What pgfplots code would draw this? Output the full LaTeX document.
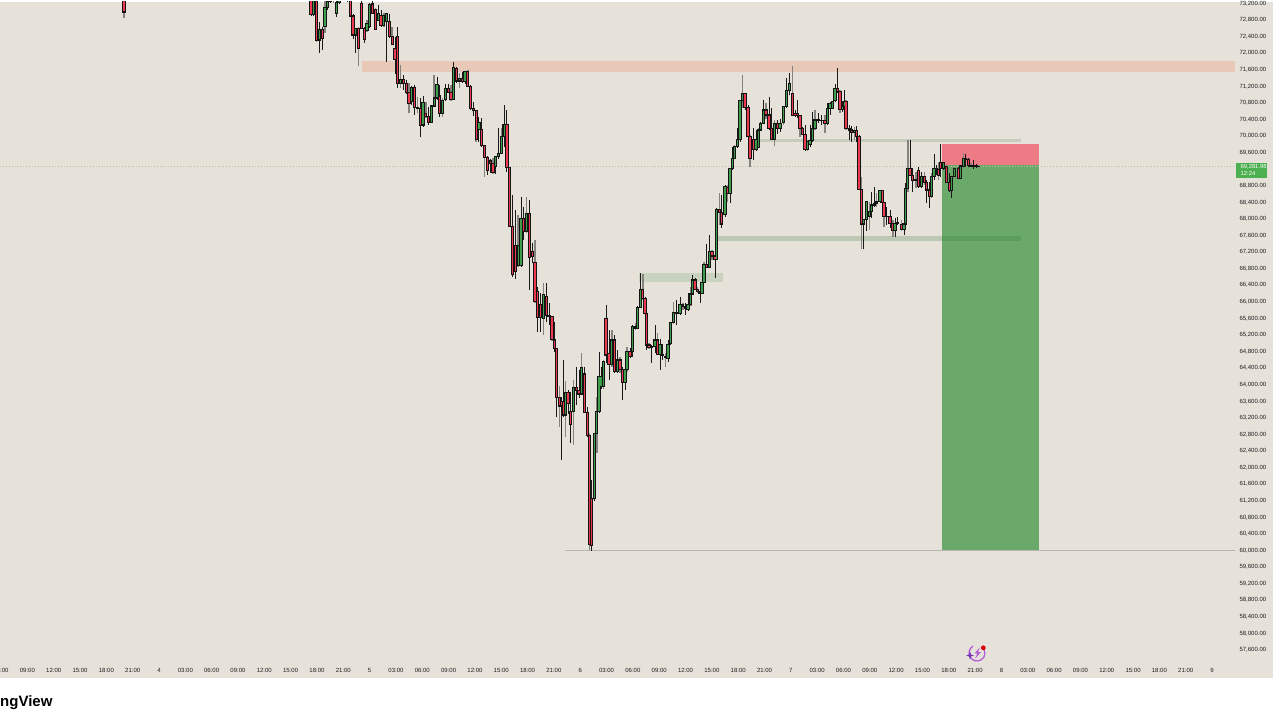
\documentclass[border=0pt]{standalone}
\usepackage{pgfplots}
\usepackage{pgfplotstable}
\usepackage{fontspec}
\setmainfont{Liberation Sans}
\pgfplotsset{compat=1.18}
\definecolor{panel}{HTML}{E6E2DA}
\definecolor{zoneO}{HTML}{E8C9B8}
\definecolor{zoneG}{HTML}{C9D1BF}
\definecolor{boxR}{HTML}{EE7A85}
\definecolor{boxG}{HTML}{6BA96B}
\definecolor{candR}{HTML}{EE3A50}
\definecolor{candG}{HTML}{3E9E4C}
\definecolor{tagG}{HTML}{4CAF50}
\definecolor{logoP}{HTML}{B055D8}
\pgfplotstableread{
t o h l c
-3.99 73400 73500 72860 73006
17.32 73380 73540 72920 72940
17.64 72940 73460 72910 73340
17.96 73340 73460 72290 72310
18.28 72330 72770 72010 72590
18.60 72590 72650 72090 72370
18.92 72650 73260 72490 73120
19.23 73120 73380 73050 73260
19.55 73260 73420 73220 73380
19.87 73380 73460 73230 73420
20.19 72970 73460 72880 73230
20.51 73230 73640 73210 73620
20.83 73620 73700 73460 73540
21.15 73540 73700 73460 73600
21.47 73600 73620 73250 73380
21.79 73340 73420 72890 72910
22.11 72910 72970 72350 72450
22.42 72450 72610 72020 72610
22.74 72610 72650 71700 72130
23.06 73220 73460 72590 72610
23.38 72610 72650 72250 72350
23.70 72570 72820 72530 72730
24.02 72650 73220 72610 73180
24.34 73200 73260 72960 72970
24.66 73060 73100 72570 72590
24.98 72810 73180 72800 72970
25.30 72930 73060 72650 72690
25.62 72690 72990 72650 72930
25.93 72770 72990 71810 72970
26.25 72770 72970 72390 72410
26.57 72410 72650 72210 72230
26.89 72130 72410 71510 71860
27.21 72410 72650 71170 71290
27.53 71290 71730 71170 71370
27.85 71370 71490 71120 71290
28.17 71290 71370 71030 71060
28.49 71060 71285 70560 70790
28.81 70840 71210 70760 71190
29.13 71190 71250 70520 70710
29.44 70710 70960 70560 70680
29.76 70680 70920 70000 70260
30.08 70280 70980 70240 70820
30.40 70560 70840 70460 70480
30.72 70480 70720 70280 70350
31.04 70350 70760 70320 70740
31.36 70740 71490 70710 70930
31.68 70930 71450 70880 71250
32.00 70980 71250 70480 70550
32.32 70560 70920 70480 70880
32.63 70900 71280 70870 71170
32.95 71170 71280 71040 71070
33.27 71070 71250 70870 70900
33.59 70900 71810 70880 71670
33.91 71650 71690 71300 71340
34.23 71340 71530 71170 71410
34.55 71410 71570 71300 71330
34.87 71330 71590 71280 71570
35.19 71570 71610 71190 71210
35.51 71210 71250 70640 70680
35.83 70680 70840 70500 70630
36.14 70620 70640 69880 69930
36.46 70180 70480 69880 70340
36.78 70180 70440 69760 69780
37.10 69780 69800 69030 69500
37.42 69500 69520 69070 69190
37.74 69410 69450 69110 69350
38.06 69350 69480 69100 69130
38.38 69270 69530 69100 69520
38.70 69520 70200 69450 69600
39.02 69600 70200 69580 70010
39.33 70010 70760 69760 70300
39.65 70300 70640 69150 69260
39.97 69260 69270 67830 67840
40.29 67840 68590 66620 66680
40.61 67370 68230 66560 66740
40.93 66890 68110 66860 67370
41.25 66890 68550 66860 68030
41.57 68030 68310 67510 67700
41.89 67700 68550 67670 68150
42.21 68150 68470 66300 67090
42.53 67230 67430 66940 67100
42.85 66960 67500 65980 66020
43.15 66270 66380 65290 65640
43.46 65940 66220 65290 65640
43.80 65610 66460 65210 66180
44.14 66140 66460 65530 65690
44.44 65690 65980 65450 65650
44.79 65650 65670 65070 65110
45.05 65090 65530 64810 64890
45.32 64890 64910 63240 63710
45.62 63710 63970 63000 63500
45.85 63600 63720 62200 63500
46.12 63600 64610 63240 63280
46.34 63280 64090 62760 63830
46.61 63830 63890 63300 63560
46.91 63360 63840 62600 63060
47.22 63360 64130 62560 63950
47.56 63950 64450 63520 63880
47.86 63880 64370 63680 63790
48.13 63790 64770 63770 64430
48.47 64270 64450 63320 63350
48.81 63350 63480 62760 62780
49.04 62780 62840 60030 60150
49.31 61270 61710 60010 60130
49.61 61270 62840 61210 62840
49.88 62840 63720 62360 63360
50.14 63360 64810 63340 64210
50.37 63960 64450 63900 64210
50.64 63960 64610 63900 64570
50.94 65620 65940 64530 64730
51.28 64770 65330 64130 64510
51.59 64510 65330 64450 65090
51.89 65090 65210 64300 64330
52.23 64330 64850 64300 64610
52.54 64610 64690 64290 64370
52.80 64370 64450 63640 64060
53.10 64060 64490 63890 64380
53.33 64370 64930 64330 64810
53.67 64810 64890 64650 64690
53.98 64810 65450 64690 65410
54.28 65410 65490 65330 65370
54.55 65370 65900 65350 65880
54.89 65880 66700 65860 66300
55.12 66300 66680 66060 66090
55.38 66090 66140 65450 65730
55.57 65730 65770 64850 64970
55.84 64970 65010 64870 64910
56.07 64910 64970 64530 64930
56.52 64930 65450 64770 65090
56.79 65090 65250 64730 64750
57.09 64750 65110 64370 64990
57.40 64750 64990 64610 64730
57.70 64700 64770 64450 64670
58.01 64650 65090 64570 64990
58.31 65010 65530 64970 65510
58.61 65510 66020 65480 65750
58.99 65730 66060 65450 65750
59.37 65730 66140 65690 65940
59.68 65940 65980 65810 65900
59.98 65900 65980 65690 65860
60.28 65830 66220 65800 65940
60.59 65940 66380 65910 66200
60.82 66200 66660 66180 66540
61.08 66540 66580 66300 66310
61.35 66310 66380 66220 66260
61.65 66260 66300 65990 66220
61.88 66220 66540 66200 66480
62.11 66480 66980 66460 66920
62.41 66920 67420 66820 66850
62.72 66850 67620 66820 67220
63.02 67220 67260 67020 67120
63.36 67120 67180 66580 67040
63.55 67040 68270 67020 68240
63.86 68240 68630 67870 68160
64.12 68160 68590 67790 67890
64.50 68130 68830 68070 68790
64.77 68780 68830 68430 68630
65.07 68630 69150 68400 69230
65.34 69230 69760 69190 69480
65.60 69480 69790 69450 69760
65.91 69760 70200 69720 69920
66.21 69920 70880 69880 70880
66.51 70880 71490 70680 71030
66.78 71030 71060 70640 70700
67.12 70700 70760 69800 70000
67.35 70000 70040 69270 69480
67.73 69920 70200 69430 69690
68.03 69690 70160 69660 69930
68.34 69740 70200 69720 70160
68.56 70160 70360 70140 70320
68.87 70320 70880 70300 70640
69.17 70640 70800 70420 70520
69.51 70520 70960 70160 70200
69.82 70200 70680 69920 69930
70.12 69930 70400 69770 70320
70.46 70320 70400 70060 70200
70.77 70200 70420 70120 70320
71.15 70340 70740 70280 70720
71.53 70720 71410 70700 71120
71.83 71120 71530 71000 71280
72.17 71040 71700 70490 70500
72.48 70560 70640 70480 70500
72.74 70560 70880 70460 70500
73.05 70500 70520 70000 70200
73.31 70200 70240 70040 70060
73.62 70060 70280 69660 69680
73.88 69680 69920 69660 69880
74.19 69800 70280 69740 69900
74.49 69900 70600 69880 70200
74.76 70200 70640 70160 70400
75.14 70400 70560 70320 70380
75.52 70380 70520 70280 70390
75.90 70380 70520 70090 70320
76.16 70320 70800 70280 70680
76.47 70680 70840 70520 70800
76.77 70680 70840 70660 70840
77.04 70870 71270 70840 71160
77.30 71160 71650 71040 71080
77.61 71080 71120 70580 70660
77.87 70660 70870 70600 70720
78.10 70720 71120 70680 70840
78.29 70840 70880 70160 70200
78.67 70200 70280 69920 70160
78.93 70160 70260 69880 70090
79.24 70090 70240 69920 70140
79.50 70140 70260 69880 70010
79.77 70010 70040 68710 68730
80.07 68730 69030 67280 67890
80.30 67890 68000 67280 67990
80.64 67990 68430 67710 68430
80.95 68070 68430 67750 68190
81.21 68190 68670 68030 68350
81.52 68350 68790 68310 68390
81.78 68390 68630 68290 68430
82.16 68430 68710 68400 68690
82.43 68690 68710 68370 68400
82.62 68400 68430 67830 68070
82.92 68070 68310 67870 68070
83.30 68070 68230 67790 67910
83.61 67910 67990 67570 67730
83.87 67730 68030 67570 67910
84.18 67910 68070 67870 67920
84.63 67870 67990 67710 67750
84.90 67750 67990 67620 67890
85.09 67890 68890 67870 68750
85.32 68750 69920 68670 69230
85.58 69230 69920 69070 69070
85.89 69070 69230 68670 68950
86.27 68950 69150 68750 68970
86.57 69190 69270 68750 68790
86.91 68790 69150 68750 69030
87.22 69030 69150 68830 68890
87.48 68890 68950 68390 68710
87.79 68710 68910 68270 68550
88.05 68550 69110 68510 69030
88.32 69030 69590 68950 69230
88.62 69230 69310 69070 69210
88.81 69210 69390 68950 69070
89.08 69380 69820 69030 69230
89.38 69230 69390 69190 69370
89.76 69270 69310 68870 68890
90.06 68890 69110 68670 68690
90.33 68690 69030 68510 69030
90.63 69030 69270 68990 69230
91.09 69230 69270 68970 68990
91.36 68990 69310 68970 69290
91.66 69270 69610 69230 69470
91.93 69470 69590 69270 69450
92.23 69450 69480 69260 69310
92.50 69310 69370 69260 69290
92.80 69290 69430 69210 69310
93.10 69310 69350 69230 69290
93.37 69280 69290 69250 69270
}\candles
\begin{document}
\begin{tikzpicture}[x=1pt,y=1pt]
\useasboundingbox (0,0) rectangle (1280,720);
\begin{axis}[
  at={(0pt,41.5pt)}, anchor=south west,
  scale only axis, width=1273.5pt, height=676.5pt,
  xmin=-18.12, xmax=127.0, ymin=56923, ymax=73248,
  axis background/.style={fill=panel},
  axis line style={draw=none}, major tick length=0pt,
  xtick={-18,-15,...,120},
  xticklabels={06:00,09:00,12:00,15:00,18:00,21:00,4,
    03:00,06:00,09:00,12:00,15:00,18:00,21:00,5,
    03:00,06:00,09:00,12:00,15:00,18:00,21:00,6,
    03:00,06:00,09:00,12:00,15:00,18:00,21:00,7,
    03:00,06:00,09:00,12:00,15:00,18:00,21:00,8,
    03:00,06:00,09:00,12:00,15:00,18:00,21:00,9},
  ytick={57600,58000,58400,58800,59200,59600,60000,60400,60800,61200,61600,62000,62400,62800,63200,63600,64000,64400,64800,65200,65600,66000,66400,66800,67200,67600,68000,68400,68800,69600,70000,70400,70800,71200,71600,72000,72400,72800,73200},
  yticklabel pos=right,
  scaled y ticks=false,
  tick label style={font=\fontsize{6}{7}\selectfont, text=black!88},
  xticklabel style={anchor=center, yshift=8pt},
  yticklabel style={anchor=east, xshift=-3.7pt, yshift=0.5pt},
  /pgf/number format/.cd, fixed, fixed zerofill, precision=2, 1000 sep={,}, assume math mode=true,
  /pgfplots/.cd,
  clip=true, unbounded coords=discard,
  error bars/error mark=none,
]
% zones under the candles
\addplot[fill=boxG, draw=none, forget plot] coordinates {(89.23,60000)(100.28,60000)(100.28,69307)(89.23,69307)} --cycle;
\addplot[fill=boxR, draw=none, forget plot] coordinates {(89.23,69307)(100.28,69307)(100.28,69814)(89.23,69814)} --cycle;
\addplot[fill=zoneO, draw=none, forget plot] coordinates {(23.13,71558)(122.62,71558)(122.62,71824)(23.13,71824)} --cycle;
\addplot[fill=zoneG, draw=none, forget plot] coordinates {(54.70,66491)(64.27,66491)(64.27,66708)(54.70,66708)} --cycle;
\addplot[fill=gray!55!green!60!black, fill opacity=0.22, draw=none, forget plot] coordinates {(63.59,67488)(98.23,67488)(98.23,67601)(63.59,67601)} --cycle;
\addplot[fill=gray!60!green!50!black, fill opacity=0.16, draw=none, forget plot] coordinates {(68.50,69862)(98.23,69862)(98.23,69949)(68.50,69949)} --cycle;
\addplot[color=black!20!panel, line width=1pt, forget plot] coordinates {(46.27,60000)(122.62,60000)};
\addplot[color=green!45!black!25!panel, line width=0.9pt, dotted, forget plot] coordinates {(-18.12,69281.98)(122.62,69281.98)};
% wicks, grey and black
\addplot[draw=none, forget plot, error bars/.cd, y dir=both, y explicit,
  error bar style={line width=1.6pt, draw=black!42!panel}]
  table[x=t, y expr={mod(\coordindex,3)==0 ? \thisrow{h} : nan},
        y error plus expr=0, y error minus expr={\thisrow{h}-\thisrow{l}}] {\candles};
\addplot[draw=none, forget plot, error bars/.cd, y dir=both, y explicit,
  error bar style={line width=0.95pt, draw=black!90}]
  table[x=t, y expr={mod(\coordindex,3)==0 ? nan : \thisrow{h}},
        y error plus expr=0, y error minus expr={\thisrow{h}-\thisrow{l}}] {\candles};
% bodies
\addplot[draw=none, forget plot, error bars/.cd, y dir=both, y explicit,
  error bar style={line width=3.3pt, draw=black!92}]
  table[x=t, y expr={max(\thisrow{o},\thisrow{c})+14},
        y error plus expr=0, y error minus expr={abs(\thisrow{o}-\thisrow{c})+28}] {\candles};
\addplot[draw=none, forget plot, error bars/.cd, y dir=both, y explicit,
  error bar style={line width=1.2pt, draw=candG}]
  table[x=t, y expr={\thisrow{c}>\thisrow{o}+40 ? \thisrow{c}-14 : nan},
        y error plus expr=0, y error minus expr={\thisrow{c}-\thisrow{o}-28}] {\candles};
\addplot[draw=none, forget plot, error bars/.cd, y dir=both, y explicit,
  error bar style={line width=1.2pt, draw=candR}]
  table[x=t, y expr={\thisrow{o}>\thisrow{c}+40 ? \thisrow{o}-14 : nan},
        y error plus expr=0, y error minus expr={\thisrow{o}-\thisrow{c}-28}] {\candles};
\end{axis}
% last-price tag
\fill[tagG] (1236,720-177.7) rectangle (1267,720-162.7);
\node[anchor=west, inner sep=0pt, text=white, font=\fontsize{5.8}{7}\selectfont] at (1240.5,720-166.6) {69,281.98};
\node[anchor=west, inner sep=0pt, text=white, font=\fontsize{5.8}{7}\selectfont] at (1240.5,720-173.6) {12:24};
% TradingView watermark text
\node[anchor=base west, inner sep=0pt, font=\fontsize{15}{17}\bfseries\selectfont] at (0,13.5) {ngView};
% badge
\draw[logoP, line width=1.2pt] (977,67) ++(120:8) arc (120:395:8);
\fill[logoP] (979.8,72.5) -- (974.5,66.5) -- (977.3,66.5) -- (975.2,61.5) -- (980.8,67.8) -- (977.9,67.8) -- cycle;
\fill[red!85!black] (983.3,72.2) circle (2.4);
\fill[violet!70!blue!80!white] (970,68.5) -- (971,65.5) -- (973.8,64.5) -- (971,63.5) -- (970,60.5) -- (969,63.5) -- (966.2,64.5) -- (969,65.5) -- cycle;
\end{tikzpicture}
\end{document}
